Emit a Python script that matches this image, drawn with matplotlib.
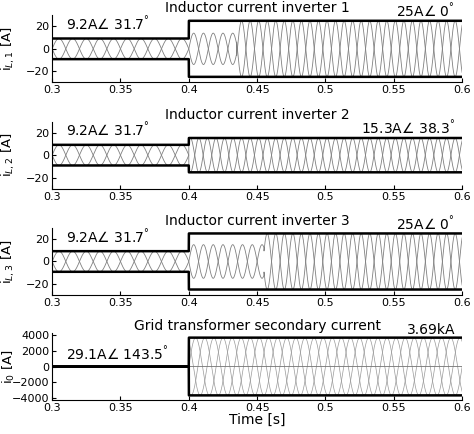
import numpy as np
import matplotlib
matplotlib.use("Agg")
import matplotlib.pyplot as plt

# panel data
titles = ["Inductor current inverter 1", "Inductor current inverter 2",
          "Inductor current inverter 3", "Grid transformer secondary current"]
ylabels = ["i$_{L,1}$ [A]", "i$_{L,2}$ [A]", "i$_{L,3}$ [A]", "i$_0$ [A]"]
amp_pre = [9.2, 9.2, 9.2, 29.1]
amp_post = [25, 15.3, 25, 3690]
amp_trans = [14, 15.3, 15, 3690]       # amplitude during transient
t_settle = [0.435, 0.40, 0.455, 0.40]  # end of transient
label_pre = ["9.2A$\\angle$ 31.7$^{\\degree}$"] * 3 + ["29.1A$\\angle$ 143.5$^{\\degree}$"]
label_post = ["25A$\\angle$ 0$^{\\degree}$", "15.3A$\\angle$ 38.3$^{\\degree}$",
              "25A$\\angle$ 0$^{\\degree}$", "3.69kA"]
yticks = [[-20, 0, 20]] * 3 + [[-4000, -2000, 0, 2000, 4000]]
ylims = [(-30, 30)] * 3 + [(-4300, 4300)]
f_pre, f_trans, f_post = 50, 70, 80
t_step = 0.4

t = np.linspace(0.3, 0.6, 6000)
fig = plt.figure(figsize=(4.74, 4.34), dpi=100)
bottoms = [0.81, 0.565, 0.32, 0.078]
for i in range(4):
    ax = fig.add_axes([0.11, bottoms[i], 0.865, 0.155])
    pre = t < t_step
    tr = (t >= t_step) & (t < t_settle[i])
    post = t >= t_settle[i]
    if i < 3:
        for sgn in (1, -1):
            y = np.where(pre, sgn * amp_pre[i] * np.sin(2 * np.pi * f_pre * t), np.nan)
            y = np.where(tr, sgn * amp_trans[i] * np.sin(2 * np.pi * f_trans * t), y)
            y = np.where(post, sgn * amp_post[i] * np.sin(2 * np.pi * f_post * t + 1), y)
            ax.plot(t, y, color="0.5", lw=0.6)
    else:
        for ph in (0, 2 * np.pi / 3, 4 * np.pi / 3):
            y = np.where(pre, amp_pre[i] * np.sin(2 * np.pi * f_pre * t + ph),
                         amp_post[i] * np.sin(2 * np.pi * 50 * t + ph))
            ax.plot(t, y, color="0.6", lw=0.5)
        ax.plot(t, np.where(pre, np.nan, 0), color="0.45", lw=0.6)
    env = np.where(pre, amp_pre[i], amp_post[i])
    ax.plot(t, env, color="k", lw=1.8)
    ax.plot(t, -env, color="k", lw=1.8)
    ax.set_xlim(0.3, 0.6)
    ax.set_ylim(*ylims[i])
    ax.set_yticks(yticks[i])
    ax.set_xticks([0.3, 0.35, 0.4, 0.45, 0.5, 0.55, 0.6])
    ax.set_xticklabels(["0.3", "0.35", "0.4", "0.45", "0.5", "0.55", "0.6"])
    ax.tick_params(direction="in", labelsize=8, length=3, pad=2)
    for s in ("top", "right"):
        ax.spines[s].set_visible(False)
    ax.set_title(titles[i], fontsize=10, pad=2)
    ax.set_ylabel(ylabels[i], fontsize=9.5)
    ax.yaxis.set_label_coords(-0.085, 0.5)
    ytop = ylims[i][1]
    ax.text(0.31, amp_pre[i] + 0.08 * (2 * ytop) if i < 3 else 0.1 * ytop,
            label_pre[i], fontsize=10, va="bottom")
    ax.text(0.595, amp_post[i] + 0.02 * ytop, label_post[i], fontsize=10,
            ha="right", va="bottom")
    if i == 3:
        ax.set_xlabel("Time [s]", fontsize=10, labelpad=0)

fig.savefig("out.png", dpi=100)
